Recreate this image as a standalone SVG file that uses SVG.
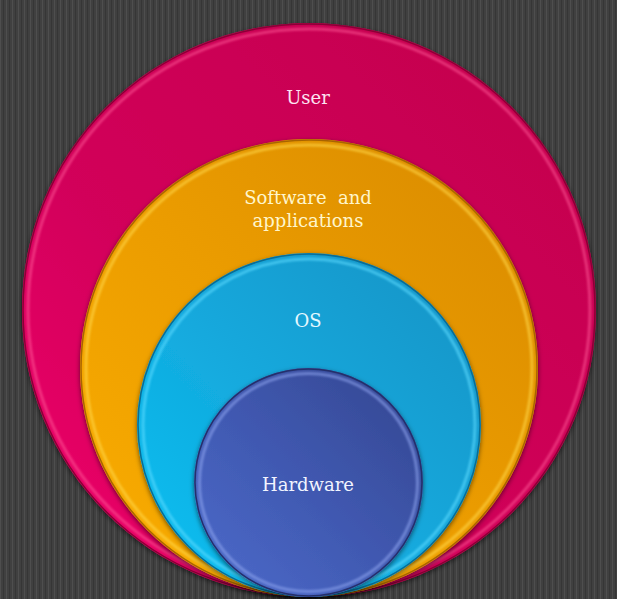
<svg xmlns="http://www.w3.org/2000/svg" width="617" height="599" viewBox="0 0 617 599">
<defs>
<pattern id="stripes" width="6" height="10" patternUnits="userSpaceOnUse">
<rect width="6" height="10" fill="#404040"/>
<rect x="0" width="1" height="10" fill="#4e4e4e"/>
<rect x="3" width="1" height="10" fill="#363636"/>
</pattern>
<linearGradient id="gUser" x1="0" y1="1" x2="1" y2="0">
<stop offset="0" stop-color="#f2086c"/>
<stop offset="0.4" stop-color="#d2005a"/>
<stop offset="1" stop-color="#c2004c"/>
</linearGradient>
<linearGradient id="gSoft" x1="0" y1="1" x2="1" y2="0">
<stop offset="0" stop-color="#fbae05"/>
<stop offset="0.5" stop-color="#eb9c00"/>
<stop offset="1" stop-color="#d88a00"/>
</linearGradient>
<linearGradient id="gOS" x1="0" y1="1" x2="1" y2="0">
<stop offset="0" stop-color="#08c2f4"/>
<stop offset="0.5" stop-color="#14a8dc"/>
<stop offset="1" stop-color="#1a92c4"/>
</linearGradient>
<linearGradient id="gHw" x1="0" y1="1" x2="1" y2="0">
<stop offset="0" stop-color="#4c6ccc"/>
<stop offset="0.5" stop-color="#4058b0"/>
<stop offset="1" stop-color="#33468f"/>
</linearGradient>
<filter id="shadow" x="-10%" y="-10%" width="120%" height="120%">
<feDropShadow dx="0" dy="2" stdDeviation="2.5" flood-color="#000" flood-opacity="0.55"/>
</filter>
<filter id="soft" x="-5%" y="-5%" width="110%" height="110%">
<feGaussianBlur stdDeviation="1.2"/>
</filter>
</defs>
<style>
.lbl{font-family:"DejaVu Serif","Liberation Serif",serif;font-size:18px;text-anchor:middle;white-space:pre}
.rim{fill:none;stroke-width:3}
.edge{fill:none;stroke-width:1.5}
</style>
<rect width="617" height="599" fill="url(#stripes)"/>
<g id="user">
<circle cx="309" cy="310" r="287" fill="url(#gUser)" filter="url(#shadow)"/>
<circle class="edge" cx="309" cy="310" r="286" stroke="#8a0036"/>
<circle class="rim" cx="309" cy="310" r="281" stroke="#ff5a98" opacity="0.55" filter="url(#soft)"/>
<text class="lbl" x="308" y="104" fill="#fde4f2">User</text>
</g>
<g id="software">
<circle cx="309" cy="368" r="229" fill="url(#gSoft)" filter="url(#shadow)"/>
<circle class="edge" cx="309" cy="368" r="228" stroke="#a86400"/>
<circle class="rim" cx="309" cy="368" r="223" stroke="#ffd84a" opacity="0.6" filter="url(#soft)"/>
<text class="lbl" x="308" y="204" fill="#fff6cc" xml:space="preserve">Software  and</text>
<text class="lbl" x="308" y="227" fill="#fff6cc">applications</text>
</g>
<g id="os">
<circle cx="309" cy="425" r="172" fill="url(#gOS)" filter="url(#shadow)"/>
<circle class="edge" cx="309" cy="425" r="171" stroke="#0a6c94"/>
<circle class="rim" cx="309" cy="425" r="166" stroke="#5edcff" opacity="0.6" filter="url(#soft)"/>
<text class="lbl" x="308" y="327" fill="#e4f8ff">OS</text>
</g>
<g id="hardware">
<circle cx="308.5" cy="482.5" r="114.5" fill="url(#gHw)" filter="url(#shadow)"/>
<circle class="edge" cx="308.5" cy="482.5" r="113.5" stroke="#24306a"/>
<circle class="rim" cx="308.5" cy="482.5" r="109" stroke="#8ea4ee" opacity="0.6" filter="url(#soft)"/>
<text class="lbl" x="308" y="491" fill="#f2f4ff">Hardware</text>
</g>
</svg>
